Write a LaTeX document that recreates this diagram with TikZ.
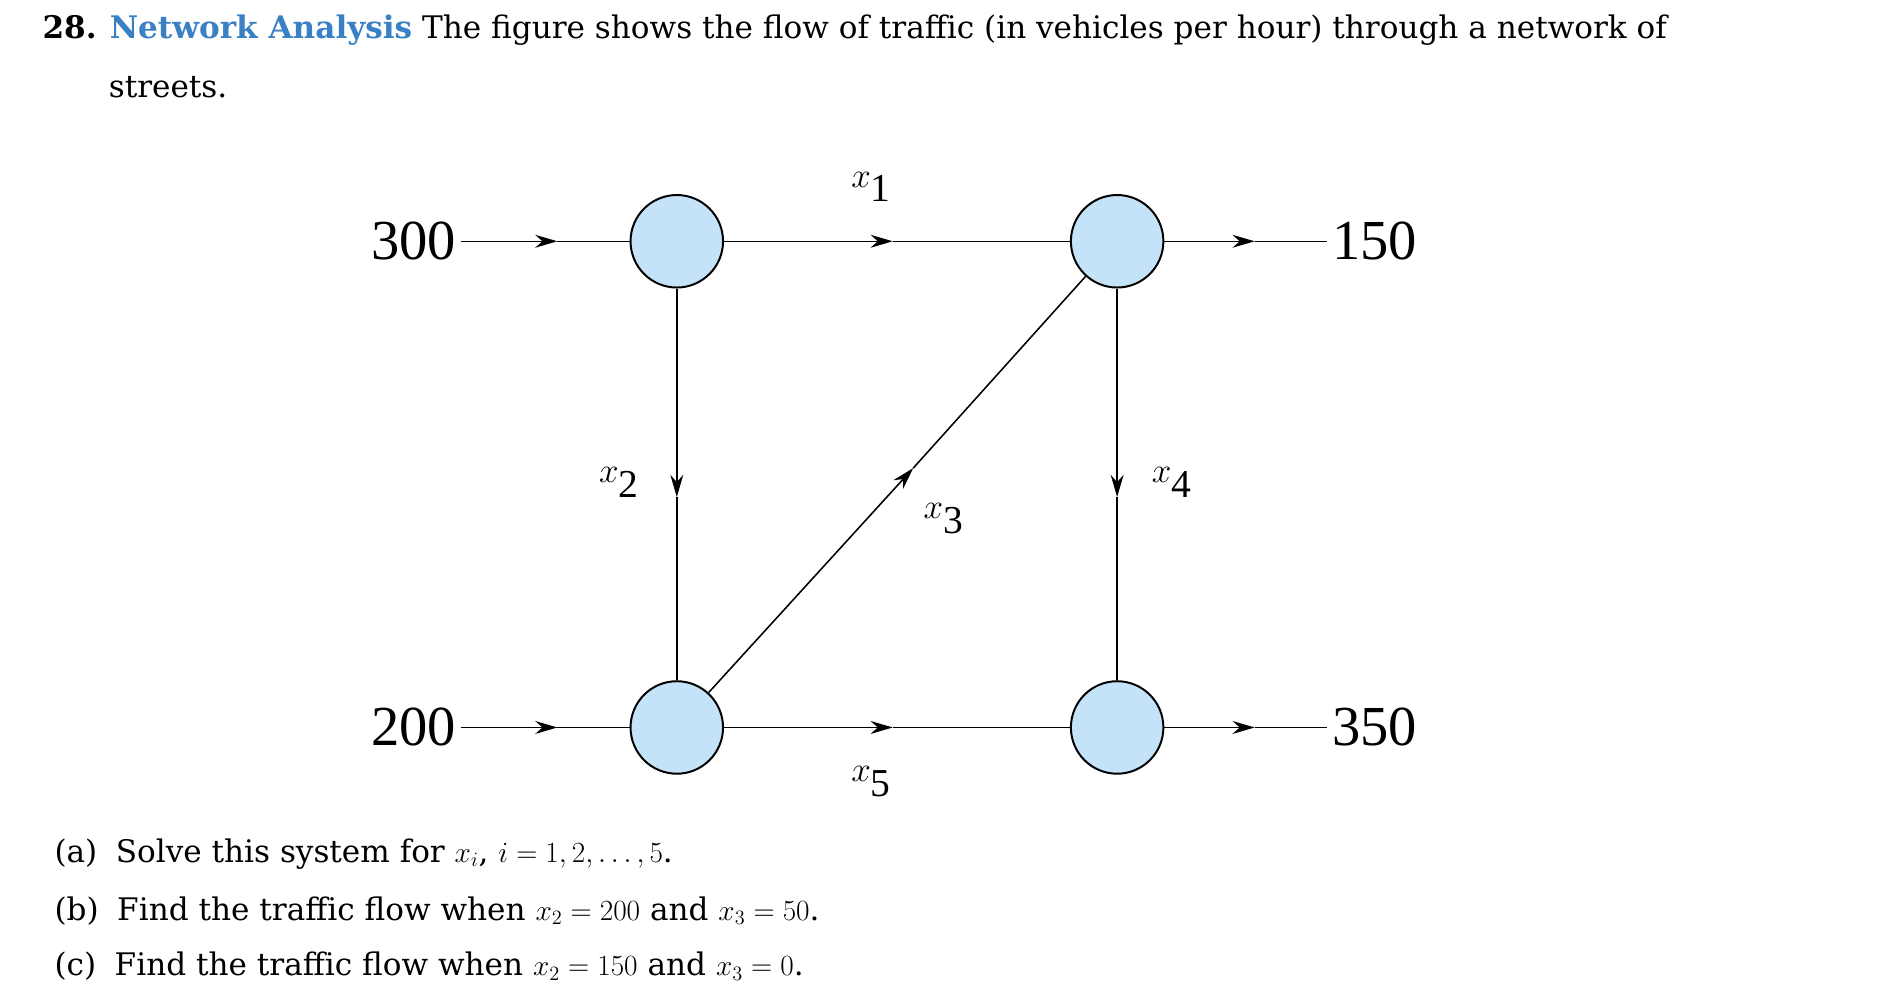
\documentclass[tikz,border=0pt]{standalone}
\usepackage{fontspec}
\setmainfont{DejaVu Serif}
\newfontfamily\lib{Liberation Serif}
\usetikzlibrary{arrows.meta}
\definecolor{nodeblue}{RGB}{196,226,248}
\definecolor{titleblue}{RGB}{58,128,196}
\tikzset{
 junc/.style={circle,draw=black,line width=1.4pt,fill=nodeblue,minimum size=2.3cm,inner sep=0pt},
 road/.style={line width=1.1pt},
 tip/.style={road,-{Stealth[length=0.55cm,width=0.32cm]}},
 num/.style={font=\lib\fontsize{40}{44}\selectfont},
 var/.style={font=\lib\itshape\fontsize{42}{46}\selectfont},
 txt/.style={font=\fontsize{22}{26}\selectfont,anchor=west,inner sep=0pt}
}
\begin{document}
\begin{tikzpicture}[x=0.03cm,y=-0.03cm]
\fill[white] (0,0) rectangle (1560,835.5);
\useasboundingbox (0,0) rectangle (1560,835.5);
\node[txt] (t1) at (35,25) {\textbf{28.} \textbf{\color{titleblue}Network Analysis} The figure shows the flow of traffic (in vehicles per hour) through a network of};
\node[txt] (t2) at (90,72) {streets.};
\node[junc] (A) at (561,200) {};
\node[junc] (B) at (926,200) {};
\node[junc] (C) at (561,603) {};
\node[junc] (D) at (926,603) {};
\node[num,anchor=east] (n300) at (382,200) {300};
\node[num,anchor=west] (n150) at (1100,200) {150};
\node[num,anchor=east] (n200) at (382,603) {200};
\node[num,anchor=west] (n350) at (1100,603) {350};
\coordinate (p1) at (462,200);
\coordinate (p2) at (1040,200);
\coordinate (p3) at (462,603);
\coordinate (p4) at (1040,603);
\coordinate (m1) at (740,200);
\coordinate (m2) at (561,412);
\coordinate (m3) at (757,388);
\coordinate (m4) at (926,412);
\coordinate (m5) at (740,603);
\draw[tip] (n300) -- (p1); \draw[road] (p1) -- (A);
\draw[tip] (B) -- (p2); \draw[road] (p2) -- (n150);
\draw[tip] (n200) -- (p3); \draw[road] (p3) -- (C);
\draw[tip] (D) -- (p4); \draw[road] (p4) -- (n350);
\draw[tip] (A) -- (m1); \draw[road] (m1) -- (B);
\draw[tip] (A) -- (m2); \draw[road] (m2) -- (C);
\draw[tip] (C) -- (m3); \draw[road] (m3) -- (B);
\draw[tip] (B) -- (m4); \draw[road] (m4) -- (D);
\draw[tip] (C) -- (m5); \draw[road] (m5) -- (D);
\node[var] (x1) at (722,155) {$x$\raisebox{-0.25em}{\fontsize{28}{30}\selectfont\upshape 1}};
\node[var] (x2) at (513,400) {$x$\raisebox{-0.25em}{\fontsize{28}{30}\selectfont\upshape 2}};
\node[var] (x3) at (782,430) {$x$\raisebox{-0.25em}{\fontsize{28}{30}\selectfont\upshape 3}};
\node[var] (x4) at (971,400) {$x$\raisebox{-0.25em}{\fontsize{28}{30}\selectfont\upshape 4}};
\node[var] (x5) at (722,648) {$x$\raisebox{-0.25em}{\fontsize{28}{30}\selectfont\upshape 5}};
\node[txt] (a) at (45,708) {(a)\; Solve this system for $x_i$, $i = 1, 2, \ldots, 5$.};
\node[txt] (b) at (45,755) {(b)\; Find the traffic flow when $x_2 = 200$ and $x_3 = 50$.};
\node[txt] (c) at (45,801) {(c)\; Find the traffic flow when $x_2 = 150$ and $x_3 = 0$.};
\end{tikzpicture}
\end{document}
